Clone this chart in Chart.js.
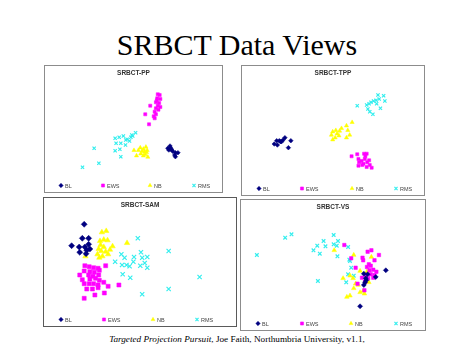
<!DOCTYPE html>
<html><head><meta charset="utf-8">
<script src="https://cdn.jsdelivr.net/npm/chart.js@4/dist/chart.umd.min.js"></script>
<style>
html,body{margin:0;padding:0;background:#fff;}
body{width:474px;height:355px;position:relative;overflow:hidden;}
#title{position:absolute;left:0;top:30px;width:474px;text-align:center;font-family:"Liberation Serif","Times New Roman",serif;font-size:30px;line-height:30px;color:#000;}
#foot{position:absolute;left:0;top:334px;width:474px;text-align:center;font-family:"Liberation Serif","Times New Roman",serif;font-size:9.2px;line-height:10px;color:#000;white-space:nowrap;}
.panel{position:absolute;box-sizing:border-box;border:1px solid #8c8c8c;background:#fff;}
.panel canvas{display:block;}
</style></head>
<body>
<div id="title">SRBCT Data Views</div>
<div class="panel" id="p0"><canvas id="c0"></canvas></div>
<div class="panel" id="p1"><canvas id="c1"></canvas></div>
<div class="panel" id="p2"><canvas id="c2"></canvas></div>
<div class="panel" id="p3"><canvas id="c3"></canvas></div>
<div id="foot"><i>Targeted Projection Pursuit</i>, Joe Faith, Northumbria University, v1.1,</div>
<script>
// ---- data ----
const classNames = ['BL', 'EWS', 'NB', 'RMS'];
const panelTitles = ['SRBCT-PP', 'SRBCT-TPP', 'SRBCT-SAM', 'SRBCT-VS'];

const ppBL = [[126,44.7],[128.3,47],[127,43],[129.3,44.7],[130,43],[131.3,41.7],[134,40.3],[136.7,40.3],[133.3,38],[134,36.3]];
const ppEWS = [[115.3,98.7],[117.3,98],[114.7,94.7],[118,94],[114.3,92.7],[113.3,90.7],[116.7,90],[115.3,87.3],[118,86],[113.3,84.7],[116,83.3],[112,81.3],[113.3,78.7],[107.3,87.3],[102,78.7],[111,76.7],[112,74.7],[106,68.7]];
const ppNB = [[96.7,45.3],[100,44],[102.7,46],[98.7,42],[101.3,41.3],[104,42.7],[94.7,42.7],[90,42.7],[92.7,37.3],[97.3,39.3],[102,38.7],[104.7,36],[100,37.3],[103.3,40.7]];
const ppRMS = [[70,54.7],[74.3,55.7],[78.7,57],[82.7,53.7],[86.7,55.7],[91.7,60.3],[88.7,57],[87.7,58],[85.3,52],[81.3,53],[81,48],[76,49.7],[71,49.7],[70,42.3],[75,43.7],[76,36.3],[47.7,44.7],[52.7,29.7],[35.3,25.7]];

const tppBL = [[32.3,55.3],[35,55.3],[29.7,52],[33,51],[37.3,54.3],[39,56],[41,58.3],[36.3,54.3],[47.3,55.3],[44.7,48.3]];
const tppEWS = [[111.7,39.7],[117.7,41.7],[119,37],[125,42.3],[127.7,42.3],[119.7,33.7],[122.3,35],[125.7,37],[124.3,32.3],[128.3,33.7],[131,31],[133,28.3],[127.7,29],[123,31],[119,30.3],[130.3,35.7],[126.3,39.7]];
const tppNB = [[91.7,64.3],[95,65.7],[99,65],[101,67.7],[106.3,70.3],[112.3,73.7],[107.7,65.7],[109.7,61],[106.3,58.3],[98.3,60.3],[94.3,58.3],[90.3,61],[96.3,62.3],[91.7,56.3]];
const tppRMS = [[117.7,90.3],[127.7,91],[130.3,92.3],[132.3,93.7],[135,95],[137.7,95.7],[139.7,101],[145.7,100.3],[147,95],[142.3,87.7],[129,87],[134.3,81.7],[131,84.3],[138.3,92.3],[141,97]];

const samBL = [[38,102.7],[36,88.7],[42.7,88.7],[24.7,81.3],[32.7,80],[38.7,80],[42.7,82.7],[44,78],[40.7,76.7],[33.3,74.7],[40,73.3]];
const samEWS = [[38.7,61.3],[43.3,60.3],[48,59.3],[52.7,58.7],[60.7,61.3],[38,56],[44,55.3],[48.7,54.7],[54,56.7],[33.3,52],[42.7,52],[47.3,50.7],[53.3,52],[36,47.3],[44,48],[50,48.7],[54,46.7],[38,43.3],[43.3,43.3],[48,43.3],[52.7,42],[58.7,44.7],[63.3,40.7],[40.7,38],[46.7,38],[52.7,39.3],[59.3,34],[49.3,32],[38,28.7],[74.7,42]];
const samNB = [[56.7,94.7],[61.3,96],[54.7,86],[58.7,87.3],[62.7,86.7],[55.3,82],[58.7,80],[53.3,78],[56,76],[52,72.7],[60.7,75.3],[65.3,77.3],[68,80.7],[63.3,72.7],[57.3,70.7],[54,69.3],[83.3,84],[39.3,70.7]];
const samRMS = [[94.7,88.7],[127.3,76],[160,50],[127.3,38],[99.3,32.7],[86.7,49.3],[78.7,52.7],[70.7,65.3],[77.3,72.7],[80.7,69.3],[78,62],[82.7,62],[86,60.7],[90.7,70],[90,65.3],[98,74.7],[99.3,69.3],[104.7,70],[102,64],[97.3,61.3],[104.7,59.3]];

const vsBL = [[149,60.7],[121.7,24.7],[125.7,57.3],[129.7,56.7],[138.3,54],[127.7,52.7],[127,48.7],[125.7,46],[128.3,50.7]];
const vsEWS = [[105,86],[112.3,72.7],[117,63.3],[124.3,73.3],[125,70.7],[129.7,79.3],[133.7,80.7],[141.7,76],[137,70.7],[131,66.7],[129,64],[133,65.3],[135.7,61.3],[139,59.3],[137,56],[133,56.7],[127.7,56],[123.7,53.3],[130.3,52.7],[135.7,53.3],[127,49.3],[119,47.3],[126.3,40.7],[131.7,60.7]];
const vsNB = [[94.3,80.7],[115,76],[133.7,74],[103.7,52.7],[111,55.3],[114.3,52.7],[121.7,60],[129,59.3],[117,47.3],[119.7,46],[115,42.7],[125,40],[121.7,38.7],[126.3,37.3],[111,35.3],[107.7,34],[131,48.7]];
const vsRMS = [[12.3,76],[42.3,93.3],[49,96.7],[93.7,96],[83,90],[98.3,90],[76.3,85.3],[85,84.7],[93.7,86.7],[97,85.3],[109,84],[72.3,80.7],[79,77.3],[97.7,74.7],[110.3,71.3],[112.3,63.3],[109,56.7],[115,55.3],[107,48.7],[77,50],[111,70]];

const panelData = [
  [ppBL, ppEWS, ppNB, ppRMS],
  [tppBL, tppEWS, tppNB, tppRMS],
  [samBL, samEWS, samNB, samRMS],
  [vsBL, vsEWS, vsNB, vsRMS]
];

// ---- layout / style ----
const boxes = [
  {left:44, top:65, w:179, h:128, border:1, color:'#8c8c8c', scale:1, legendX:[17,59,106,150]},
  {left:241, top:65, w:184, h:131, border:1, color:'#8c8c8c', scale:1, legendX:[18,61,111,155]},
  {left:43, top:197, w:194, h:130, border:1, color:'#5a5a5a', scale:1.3, legendX:[18,61,110,154]},
  {left:240, top:199, w:186, h:132, border:1, color:'#8c8c8c', scale:1.1, legendX:[18,62,111,156]}
];
const classStyle = [
  {style:'rectRot', color:'#000080', r:2.3, bw:0.5},
  {style:'rect', color:'#ff00ff', r:2.2, bw:0.5},
  {style:'triangle', color:'#ffff00', r:2.4, bw:0.5},
  {style:'crossRot', color:'#33eeee', r:2.3, bw:1.2}
];
const TITLE_SIZE = 6.5, TITLE_PAD_TOP = 4, TITLE_PAD_BOTTOM = 2;
const TITLE_H = TITLE_SIZE + TITLE_PAD_TOP + TITLE_PAD_BOTTOM;
const LEGEND_H = 14;

const panelLegend = {
  id: 'panelLegend',
  afterDraw(chart, args, opts) {
    const ctx = chart.ctx;
    ctx.save();
    ctx.font = opts.font;
    ctx.textBaseline = 'middle';
    const y = chart.height - opts.bottom;
    chart.data.datasets.forEach((ds, i) => {
      const x = opts.xs[i];
      ctx.fillStyle = ds.backgroundColor;
      ctx.strokeStyle = ds.borderColor;
      ctx.lineWidth = ds.borderWidth;
      Chart.helpers.drawPoint(ctx, {pointStyle: ds.pointStyle, radius: opts.r, borderWidth: ds.borderWidth, rotation: 0}, x, y);
      ctx.fillStyle = opts.color;
      ctx.fillText(ds.label, x + 4, y + 0.5);
    });
    ctx.restore();
  }
};

boxes.forEach((b, p) => {
  const div = document.getElementById('p' + p);
  Object.assign(div.style, {left: b.left + 'px', top: b.top + 'px', width: b.w + 'px', height: b.h + 'px',
    borderWidth: b.border + 'px', borderColor: b.color});
  const cv = document.getElementById('c' + p);
  const cw = b.w - 2 * b.border, ch = b.h - 2 * b.border;
  cv.width = cw; cv.height = ch;
  cv.style.width = cw + 'px'; cv.style.height = ch + 'px';
  const datasets = panelData[p].map((pts, i) => {
    const s = classStyle[i];
    return {
      label: classNames[i],
      data: pts.map(([x, y]) => ({x, y})),
      pointStyle: s.style,
      pointRadius: s.r * b.scale,
      backgroundColor: s.color,
      borderColor: s.color,
      borderWidth: s.bw,
      showLine: false
    };
  });
  new Chart(cv, {
    type: 'scatter',
    data: {datasets},
    plugins: [panelLegend],
    options: {
      responsive: false, animation: false, devicePixelRatio: 1,
      layout: {padding: {left: 0, right: 0, top: 0, bottom: LEGEND_H}},
      events: [],
      plugins: {
        legend: {display: false},
        tooltip: {enabled: false},
        title: {display: true, text: panelTitles[p], color: '#333',
          font: {family: '"Liberation Sans", Arial, sans-serif', size: TITLE_SIZE, weight: 'bold', lineHeight: 1},
          padding: {top: TITLE_PAD_TOP, bottom: TITLE_PAD_BOTTOM}},
        panelLegend: {xs: b.legendX.map(v => v - b.border), bottom: 6.5, r: 2.2,
          font: '5.5px "Liberation Sans", Arial, sans-serif', color: '#444'}
      },
      scales: {
        x: {type: 'linear', display: false, min: b.border, max: b.w - b.border},
        y: {type: 'linear', display: false, min: b.border + LEGEND_H, max: b.h - b.border - TITLE_H}
      }
    }
  });
});
</script>
</body></html>
